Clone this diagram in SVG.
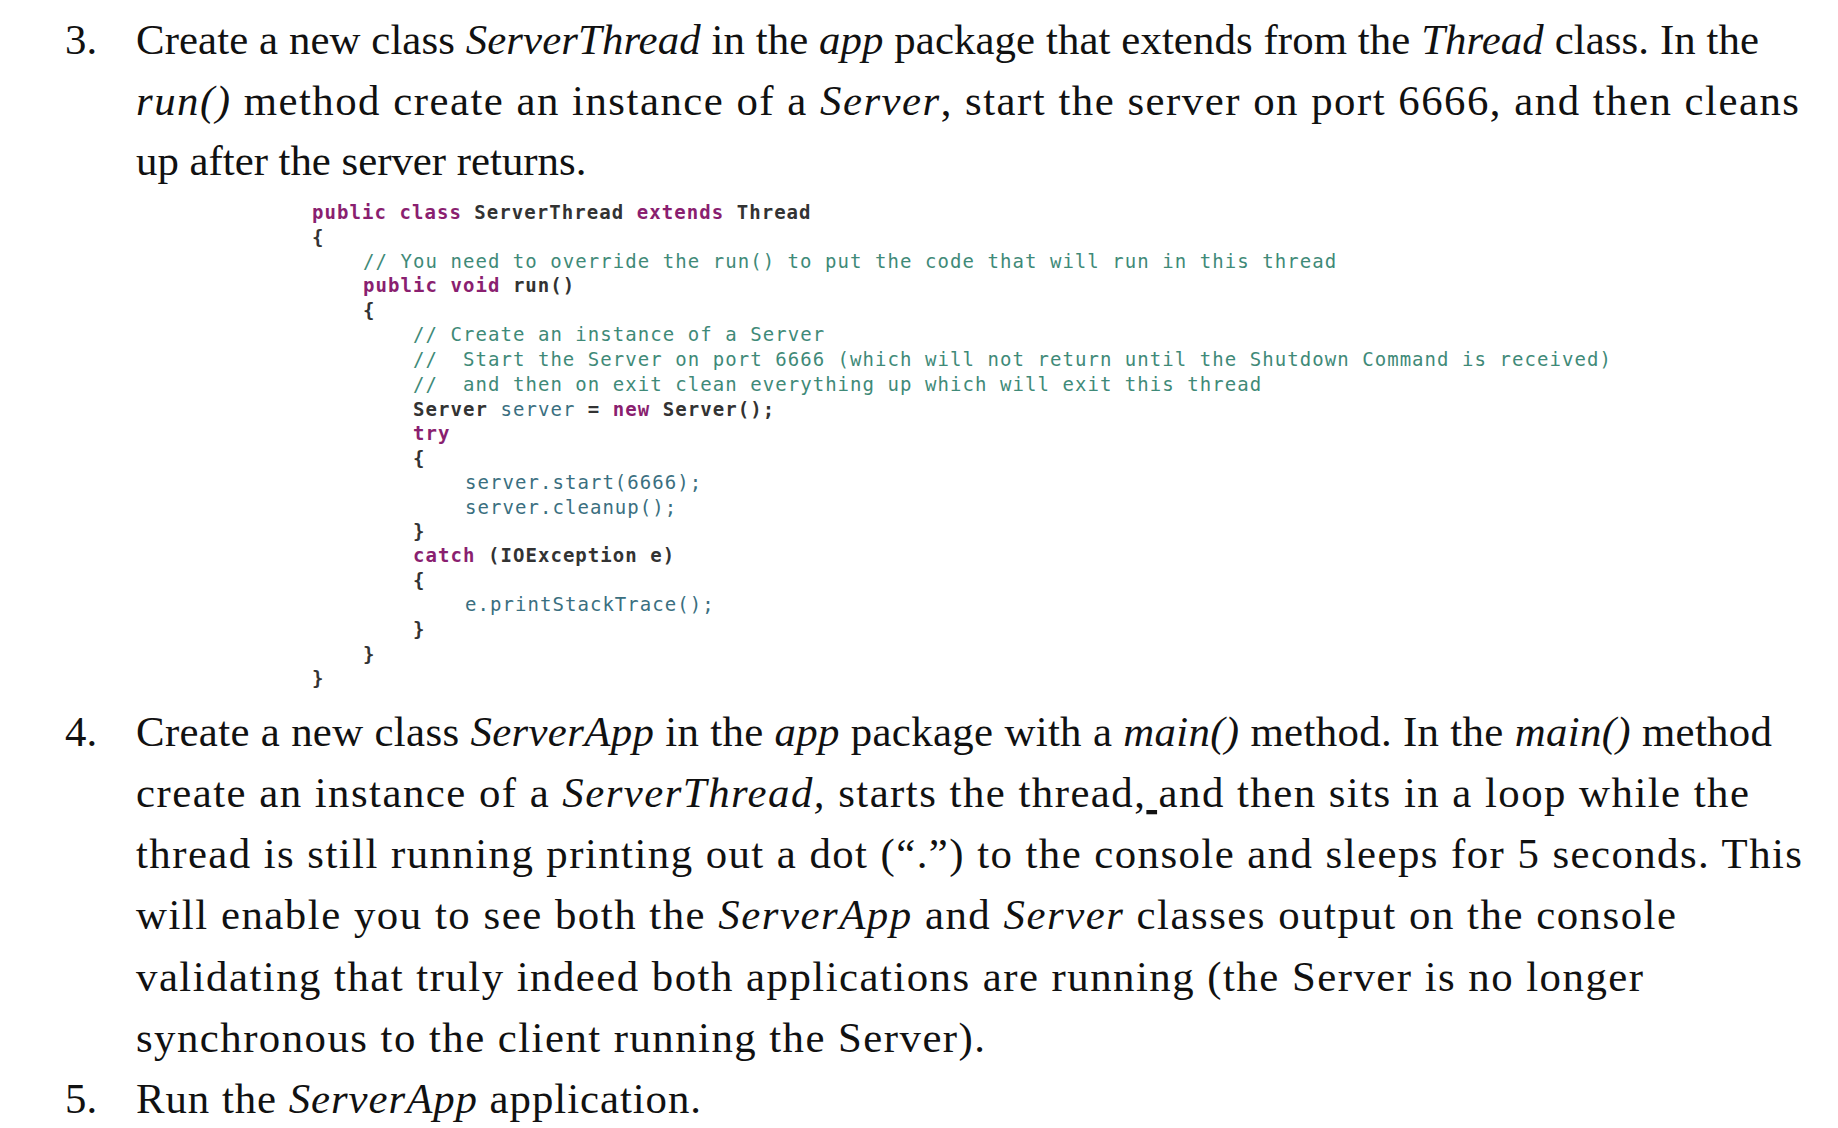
<svg xmlns="http://www.w3.org/2000/svg" width="1838" height="1128" viewBox="0 0 1838 1128">
<style>
.p{font-family:"Liberation Serif",serif;font-size:42.8px;fill:#111}
.i{font-style:italic}
.c{font-family:"DejaVu Sans Mono",monospace;font-size:19px;letter-spacing:1.05px;fill:#333;font-weight:bold}
.k{fill:#8a1f70}
.g{fill:#3f8a78;font-weight:normal}
.v{fill:#3a6f80;font-weight:normal}
</style>
<rect width="1838" height="1128" fill="#fff"/>
<g id="para3">
<text class="p" x="65" y="54">3.</text>
<text class="p" x="136" y="54" textLength="1623" lengthAdjust="spacing">Create a new class <tspan class="i">ServerThread</tspan> in the <tspan class="i">app</tspan> package that extends from the <tspan class="i">Thread</tspan> class. In the</text>
<text class="p" x="136" y="115" textLength="1663" lengthAdjust="spacing"><tspan class="i">run()</tspan> method create an instance of a <tspan class="i">Server</tspan>, start the server on port 6666, and then cleans</text>
<text class="p" x="136" y="175">up after the server returns.</text>
</g>
<g id="code">
<text class="c" x="312" y="219"><tspan class="k">public class</tspan> ServerThread <tspan class="k">extends</tspan> Thread</text>
<text class="c" x="312" y="244">{</text>
<text class="c g" x="363" y="268">// You need to override the run() to put the code that will run in this thread</text>
<text class="c" x="363" y="292"><tspan class="k">public void</tspan> run()</text>
<text class="c" x="363" y="317">{</text>
<text class="c g" x="413" y="341">// Create an instance of a Server</text>
<text class="c g" x="413" y="366" xml:space="preserve">//  Start the Server on port 6666 (which will not return until the Shutdown Command is received)</text>
<text class="c g" x="413" y="391" xml:space="preserve">//  and then on exit clean everything up which will exit this thread</text>
<text class="c" x="413" y="416">Server <tspan class="v">server</tspan> = <tspan class="k">new</tspan> Server();</text>
<text class="c k" x="413" y="440">try</text>
<text class="c" x="413" y="465">{</text>
<text class="c v" x="465" y="489">server.start(6666);</text>
<text class="c v" x="465" y="514">server.cleanup();</text>
<text class="c" x="413" y="538">}</text>
<text class="c" x="413" y="562"><tspan class="k">catch</tspan> (IOException e)</text>
<text class="c" x="413" y="587">{</text>
<text class="c v" x="465" y="611">e.printStackTrace();</text>
<text class="c" x="413" y="636">}</text>
<text class="c" x="363" y="661">}</text>
<text class="c" x="312" y="685">}</text>
</g>
<g id="para4">
<text class="p" x="65" y="746">4.</text>
<text class="p" x="136" y="746" textLength="1636" lengthAdjust="spacing">Create a new class <tspan class="i">ServerApp</tspan> in the <tspan class="i">app</tspan> package with a <tspan class="i">main()</tspan> method. In the <tspan class="i">main()</tspan> method</text>
<text class="p" x="136" y="807" textLength="1613" lengthAdjust="spacing">create an instance of a <tspan class="i">ServerThread,</tspan> starts the thread,<tspan text-decoration="underline"> </tspan>and then sits in a loop while the</text>
<text class="p" x="136" y="868" textLength="1666" lengthAdjust="spacing">thread is still running printing out a dot (“.”) to the console and sleeps for 5 seconds. This</text>
<text class="p" x="136" y="929" textLength="1540" lengthAdjust="spacing">will enable you to see both the <tspan class="i">ServerApp</tspan> and <tspan class="i">Server</tspan> classes output on the console</text>
<text class="p" x="136" y="991" textLength="1507" lengthAdjust="spacing">validating that truly indeed both applications are running (the Server is no longer</text>
<text class="p" x="136" y="1052" textLength="849" lengthAdjust="spacing">synchronous to the client running the Server).</text>
</g>
<g id="para5">
<text class="p" x="65" y="1113">5.</text>
<text class="p" x="136" y="1113" textLength="565" lengthAdjust="spacing">Run the <tspan class="i">ServerApp</tspan> application.</text>
</g>
</svg>
